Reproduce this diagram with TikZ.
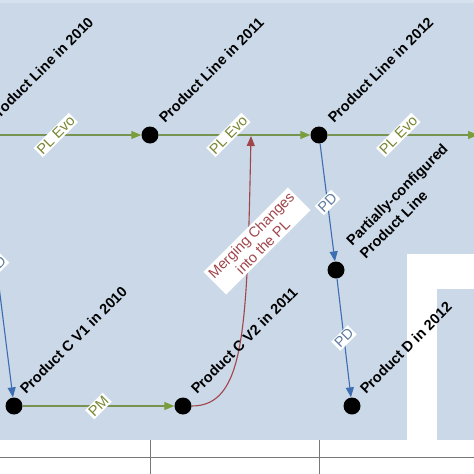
\documentclass[tikz,border=0pt]{standalone}
\usepackage{fontspec}
\setmainfont{Liberation Sans}
\usetikzlibrary{arrows.meta}
\definecolor{bgblue}{RGB}{202,216,231}
\definecolor{bgtop}{RGB}{214,225,237}
\definecolor{lineGreen}{RGB}{118,148,80}
\definecolor{arrowGreen}{RGB}{122,158,60}
\definecolor{oliveText}{RGB}{120,135,50}
\definecolor{lineBlue}{RGB}{62,110,178}
\definecolor{blueText}{RGB}{95,125,160}
\definecolor{mergeRed}{RGB}{160,70,75}
\definecolor{gridGray}{RGB}{120,120,120}
\begin{document}
\begin{tikzpicture}[x=1pt,y=-1pt,
  dot/.style={circle,fill=black,inner sep=0pt,minimum size=17pt},
  evo/.style={draw=lineGreen,line width=1.1pt,-{Triangle[length=10pt,width=8pt,color=arrowGreen]}},
  pdline/.style={draw=lineBlue,line width=1.1pt,-{Triangle[length=10pt,width=8pt,color=lineBlue]}},
  mergeline/.style={draw=mergeRed,line width=1.1pt,-{Triangle[length=10pt,width=8pt,color=mergeRed]}},
  evolab/.style={rotate=45,fill=white,inner sep=1.5pt,text=oliveText,font=\fontsize{14.5}{16}\selectfont},
  pdlab/.style={rotate=45,fill=white,inner sep=1.5pt,text=blueText,font=\fontsize{14.5}{16}\selectfont},
  mergelab/.style={rotate=45,fill=white,inner sep=2.5pt,text=mergeRed,align=center,font=\fontsize{14.5}{16.5}\selectfont},
  lbl/.style={rotate=45,anchor=base west,inner sep=0pt,font=\bfseries\fontsize{14.5}{18}\selectfont},
  gridline/.style={draw=gridGray,line width=0.9pt}
]
\useasboundingbox (0,0) rectangle (474,474);
\clip (0,0) rectangle (474,474);
% background
\fill[bgblue] (0,0) rectangle (474,440);
\fill[bgtop] (0,0) rectangle (474,3);
\fill[white] (407,254) rectangle (474,440);
\fill[bgblue] (437,289) rectangle (474,440);
\draw[gridline] (0,457) -- (474,457);
\draw[gridline] (150,440) -- (150,474);
\draw[gridline] (319,440) -- (319,474);
% nodes
\coordinate (p10) at (-20,135);
\node[dot] (p11) at (150,135) {};
\node[dot] (p12) at (319,135) {};
\coordinate (pend) at (478,135);
\node[dot] (part) at (336,270) {};
\node[dot] (pd) at (352,406) {};
\node[dot] (cv1) at (14,406) {};
\node[dot] (cv2) at (183,406) {};
\coordinate (mpt) at (251,136);
% connectors
\draw[evo] (p10) -- node[evolab,pos=0.47] {PL Evo} (p11);
\draw[evo] (p11) -- node[evolab,pos=0.46] {PL Evo} (p12);
\draw[evo] (p12) -- node[evolab,pos=0.47] {PL Evo} (pend);
\draw[pdline] (p10) -- node[pdlab] {PD} (cv1);
\draw[pdline] (p12) -- node[pdlab] {PD} (part);
\draw[pdline] (part) -- node[pdlab] {PD} (pd);
\draw[evo] (cv1) -- node[evolab] {PM} (cv2);
\draw[mergeline] (cv2) .. controls (245,406) and (247,330) .. (mpt);
\node[mergelab] (mlab) at (257,241) {Merging Changes\\into the PL};
% labels
\node[lbl] (l10) at (-6,124) {Product Line in 2010};
\node[lbl] (l11) at (165,124) {Product Line in 2011};
\node[lbl] (l12) at (334,124) {Product Line in 2012};
\node[lbl] (lcv1) at (26,395) {Product C V1 in 2010};
\node[lbl] (lcv2) at (197,395) {Product C V2 in 2011};
\node[lbl] (ld) at (366,395) {Product D in 2012};
\node[rotate=45,anchor=south west,inner sep=0pt,align=left,font=\bfseries\fontsize{14.5}{19}\selectfont] (lpart) at (366,260) {Partially-configured\\Product Line};
\end{tikzpicture}
\end{document}
